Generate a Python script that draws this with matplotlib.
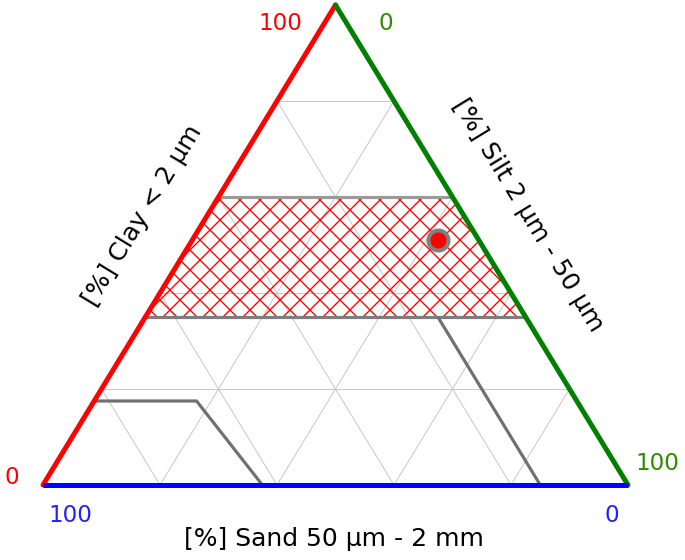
import numpy as np
import matplotlib
matplotlib.use("Agg")
import matplotlib.pyplot as plt
from matplotlib.patches import Polygon

# ---------------- data (percent) ----------------
grid_levels = [20, 40, 60, 80]

# class boundaries (sand, silt, clay)
clay60_sand = [40, 0];       clay60_silt = [0, 40];       clay60_clay = [60, 60]
clay35_sand = [65, 0];       clay35_silt = [0, 65];       clay35_clay = [35, 35]
lowleft_sand = [82.5, 65, 62.5]; lowleft_silt = [0, 17.5, 37.5]; lowleft_clay = [17.5, 17.5, 0]
right_sand = [15, 15];       right_silt = [50, 85];       right_clay = [35, 0]

# hatched class region
region_sand = [65, 40, 0, 0]
region_silt = [0, 0, 40, 65]
region_clay = [35, 60, 60, 35]

# sample point
sample_sand = [7]
sample_silt = [42]
sample_clay = [51]

corner_labels_clay = ["100", "0"]
corner_labels_silt = ["0", "100"]
corner_labels_sand = ["100", "0"]
title_clay = "[%] Clay < 2 µm"
title_silt = "[%] Silt 2 µm - 50 µm"
title_sand = "[%] Sand 50 µm - 2 mm"

# ---------------- helpers ----------------
def tern(sand, silt, clay):
    sand = np.asarray(sand, float) / 100.0
    clay = np.asarray(clay, float) / 100.0
    x = 1.0 - sand - clay / 2.0
    y = clay
    return x, y

W, H = 685, 560
DPI = 120
X0, XW = 43.0, 585.0     # pixel position of base
YB, YH = 485.0, 480.0    # pixel baseline and height

def px2data(px, py):
    return (px - X0) / XW, (YB - py) / YH

plt.rcParams["hatch.linewidth"] = 0.8

fig = plt.figure(figsize=(W / DPI, H / DPI), dpi=DPI)
ax = fig.add_axes([0, 0, 1, 1])
ax.set_xlim((0 - X0) / XW, (W - X0) / XW)
ax.set_ylim((YB - H) / YH, YB / YH)
ax.axis("off")

# light grid
for g in grid_levels:
    x, y = tern([100 - g, 0], [0, 100 - g], [g, g])
    ax.plot(x, y, color="#c8c8c8", lw=0.6, zorder=1)
    x, y = tern([g, g], [0, 100 - g], [100 - g, 0])
    ax.plot(x, y, color="#c8c8c8", lw=0.6, zorder=1)
    x, y = tern([0, 100 - g], [g, g], [100 - g, 0])
    ax.plot(x, y, color="#c8c8c8", lw=0.6, zorder=1)

# hatched region
rx, ry = tern(region_sand, region_silt, region_clay)
poly = Polygon(np.column_stack([rx, ry]), closed=True, facecolor="none",
               edgecolor="#ff0000", linewidth=0, hatch="xx", zorder=2)
ax.add_patch(poly)

# class boundaries
x, y = tern(clay60_sand, clay60_silt, clay60_clay)
ax.plot(x, y, color="#9a9a9a", lw=1.9, zorder=3, solid_capstyle="butt")
x, y = tern(clay35_sand, clay35_silt, clay35_clay)
ax.plot(x, y, color="#7d7d7d", lw=1.9, zorder=3, solid_capstyle="butt")
x, y = tern(lowleft_sand, lowleft_silt, lowleft_clay)
ax.plot(x, y, color="#707070", lw=1.9, zorder=3, solid_capstyle="butt")
x, y = tern(right_sand, right_silt, right_clay)
ax.plot(x, y, color="#707070", lw=1.9, zorder=3, solid_capstyle="butt")

# triangle edges
x, y = tern([100, 0], [0, 0], [0, 100])
ax.plot(x, y, color="#ff0000", lw=3.0, zorder=5, solid_capstyle="round")
x, y = tern([0, 0], [0, 100], [100, 0])
ax.plot(x, y, color="#008000", lw=3.0, zorder=5, solid_capstyle="round")
x, y = tern([100, 0], [0, 100], [0, 0])
ax.plot(x, y, color="#0000ff", lw=3.0, zorder=5, solid_capstyle="butt")

# sample point
x, y = tern(sample_sand, sample_silt, sample_clay)
ax.plot(x, y, "o", ms=12.0, mfc="#ff0000", mec="#808080", mew=2.4, zorder=6)

# corner numbers and titles
fs_num = 23 * 72 / DPI
fs_title = 25 * 72 / DPI
def t(px, py, s, color, **kw):
    xx, yy = px2data(px, py)
    ax.text(xx, yy, s, color=color, ha="center", va="center", **kw)

t(280, 24, corner_labels_clay[0], "#ff0000", fontsize=fs_num)
t(12, 477, corner_labels_clay[1], "#ff0000", fontsize=fs_num)
t(386, 24, corner_labels_silt[0], "#2e8b00", fontsize=fs_num)
t(657, 463, corner_labels_silt[1], "#2e8b00", fontsize=fs_num)
t(70, 515, corner_labels_sand[0], "#2020ff", fontsize=fs_num)
t(612, 515, corner_labels_sand[1], "#2020ff", fontsize=fs_num)

ang = np.degrees(np.arctan2(YH, XW / 2.0))
t(143, 215, title_clay, "#000000", fontsize=fs_title, rotation=ang,
  rotation_mode="anchor")
t(528, 215, title_silt, "#000000", fontsize=fs_title, rotation=-ang,
  rotation_mode="anchor")
t(334, 539, title_sand, "#000000", fontsize=fs_title)

fig.savefig("out.png", dpi=DPI)
